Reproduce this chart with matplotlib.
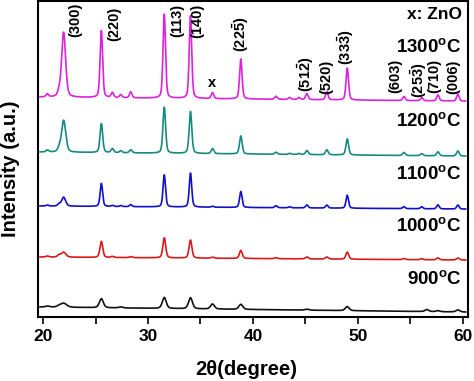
import numpy as np
import matplotlib
matplotlib.use('Agg')
import matplotlib.pyplot as plt
from matplotlib.ticker import MultipleLocator

plt.rcParams['font.family'] = ['Liberation Sans', 'DejaVu Sans']
plt.rcParams['font.weight'] = 'bold'
plt.rcParams['axes.labelweight'] = 'bold'
plt.rcParams['mathtext.fontset'] = 'custom'
plt.rcParams['mathtext.rm'] = 'Liberation Sans:bold'
plt.rcParams['mathtext.bf'] = 'Liberation Sans:bold'
plt.rcParams['mathtext.it'] = 'Liberation Sans:bold'

# peak positions (2theta, degree) shared by all patterns
peak_pos = [20.4, 21.5, 21.95, 25.55, 26.6, 27.4, 28.35, 31.55, 34.05, 36.15,
            38.85, 42.2, 43.5, 44.4, 45.15, 47.05, 49.0, 54.4, 56.1, 56.6,
            57.65, 59.55]

# peak heights for each temperature (a.u.)
h_900 = [1, 1, 4, 9, 0, 1, 0, 11, 11, 5, 5, 0, 0, 0, 1, 0, 4, 0, 0, 2, 1, 2]
h_1000 = [1, 2, 5, 16, 1, 0, 1, 20, 18, 1, 8, 1, 0, 0, 2, 2, 7, 1, 1, 0, 2, 2]
h_1100 = [1, 2, 9, 23, 1, 1, 2, 32, 34, 1, 16, 2, 1, 0, 3, 3, 13, 2, 2, 0, 4, 4]
h_1200 = [2, 3, 32, 29, 4, 2, 3, 46, 42, 5, 18, 2, 1, 1, 4, 5, 16, 3, 2, 0, 4, 5]
h_1300 = [3, 4, 65, 67, 5, 3, 6, 84, 83, 6, 40, 3, 2, 2, 6, 8, 32, 4, 3, 0, 6, 7]

# peak half widths (degree)
w_900 = 0.22
w_1000 = 0.16
w_1100 = 0.14
w_1200 = 0.15
w_1300 = 0.14

# baseline level at 2theta = 20 and 60 (stacked offsets)
base_900 = (10, 5)
base_1000 = (60, 57)
base_1100 = (111, 108)
base_1200 = (165, 161)
base_1300 = (220, 216)

temps = ['900', '1000', '1100', '1200', '1300']
colors = ['#111111', '#dd1818', '#1010c8', '#178a80', '#dd22dd']

# Miller index labels of the 1300 C pattern
hkl_labels = ['(300)', '(220)', '(113)', '(140)', r'(22$\bar{5}$)',
              r'(51$\bar{2}$)', '(520)', r'(33$\bar{3}$)', '(603)',
              r'(25$\bar{3}$)', '(710)', '(006)']
hkl_x = [23.1, 26.8, 32.8, 34.7, 38.9, 45.1, 47.0, 48.9, 53.6, 55.8, 57.3, 59.1]
hkl_y = [297, 293, 297, 296, 283, 243, 240, 270, 241, 237, 241, 240]


def pattern(x, heights, width, base):
    y = base[0] + (base[1] - base[0]) * (x - 20) / 40.0
    for p, h in zip(peak_pos, heights):
        w = width * 1.6 if p == 21.95 else width
        lor = w ** 2 / ((x - p) ** 2 + w ** 2)
        gau = np.exp(-np.log(2) * ((x - p) / w) ** 2)
        y = y + h * (0.35 * lor + 0.65 * gau)
    return y


x = np.linspace(19.7, 60.3, 4000)
series = [(h_900, w_900, base_900), (h_1000, w_1000, base_1000),
          (h_1100, w_1100, base_1100), (h_1200, w_1200, base_1200),
          (h_1300, w_1300, base_1300)]

fig = plt.figure(figsize=(4.74, 3.81), dpi=100)
ax = fig.add_axes([0.080, 0.168, 0.907, 0.829])

for (h, w, b), c in zip(series, colors):
    ax.plot(x, pattern(x, h, w, b), color=c, lw=1.2)

# temperature labels
temp_y = [38, 91, 143, 196, 270]
for t, ty in zip(temps, temp_y):
    ax.text(59.9, ty, t + r'$^{\mathrm{o}}$C', ha='right', va='center',
            fontsize=13.5, fontweight='bold')

ax.text(59.9, 303, 'x: ZnO', ha='right', va='center', fontsize=12.5,
        fontweight='bold')
ax.text(36.1, 234, 'x', ha='center', va='center', fontsize=10.5,
        fontweight='bold')

for lab, lx, ly in zip(hkl_labels, hkl_x, hkl_y):
    ax.text(lx, ly, lab, rotation=90, ha='center', va='center', fontsize=10.5,
            fontweight='bold')

ax.set_xlim(19.5, 60.5)
ax.set_ylim(0, 316)
ax.xaxis.set_major_locator(MultipleLocator(10))
ax.xaxis.set_minor_locator(MultipleLocator(5))
ax.tick_params(axis='x', which='both', direction='out', length=5, width=1.2,
               labelsize=12.5, pad=4)
for lbl in ax.get_xticklabels():
    lbl.set_fontweight('bold')
ax.set_yticks([])
for s in ax.spines.values():
    s.set_linewidth(1.5)

ax.set_xlabel('2θ(degree)', fontsize=14.5, fontweight='bold')
ax.set_ylabel('Intensity (a.u.)', fontsize=14.5, fontweight='bold')
ax.xaxis.set_label_coords(0.484, -0.135)
ax.yaxis.set_label_coords(-0.042, 0.468)

fig.savefig('out.png', dpi=100)
